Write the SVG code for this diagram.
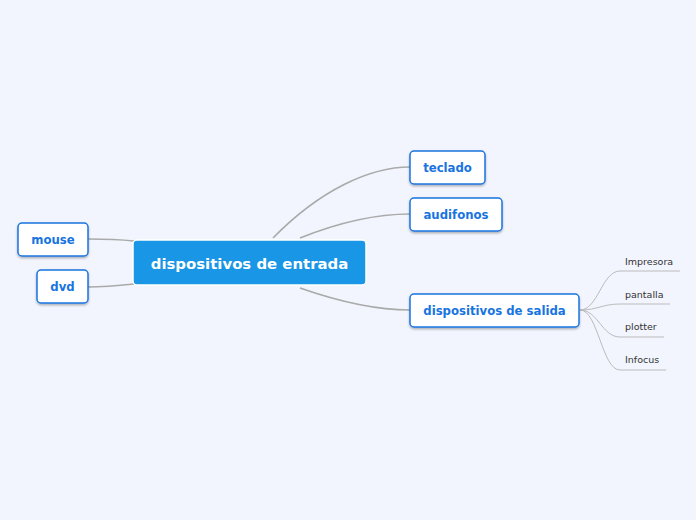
<svg xmlns="http://www.w3.org/2000/svg" width="696" height="520" viewBox="0 0 696 520">
<defs>
<filter id="sh" x="-10%" y="-20%" width="120%" height="150%">
<feDropShadow dx="0" dy="1.5" stdDeviation="1" flood-color="#000" flood-opacity="0.3"/>
</filter>
</defs>
<style>
.bg{fill:#f2f5fe}
.node rect{fill:#fff;stroke:#1874e0;stroke-width:1.5;filter:url(#sh)}
.node text{font-family:"DejaVu Sans",sans-serif;font-weight:bold;font-size:11.7px;fill:#1874e0;text-anchor:middle}
.conn path{fill:none;stroke:#aaaaaa;stroke-width:1.6}
.sub path{fill:none;stroke:#bbbbbb;stroke-width:1}
.sub text{font-family:"DejaVu Sans",sans-serif;font-size:9.5px;fill:#333}
</style>
<rect class="bg" x="0" y="0" width="696" height="520"/>
<g class="conn" id="connectors">
<path d="M273,238 C320,190 370,167 410,167"/>
<path d="M300,238 C340,222 375,214 410,214"/>
<path d="M300,288 C340,302 375,310 410,310"/>
<path d="M134,241 C115,239 100,239 88,239"/>
<path d="M134,284 C115,286 100,287 88,287"/>
</g>
<g class="sub" id="subconnectors">
<path d="M580,310 C598,310 602,271 620,271 L680,271"/>
<path d="M580,310 C598,310 602,304 620,304 L670,304"/>
<path d="M580,310 C598,310 602,337 620,337 L664,337"/>
<path d="M580,310 C598,310 602,370 620,370 L666,370"/>
</g>
<g id="central">
<rect x="133" y="240" width="233" height="45" rx="4" fill="#1a96e6" stroke="#ffffff" stroke-width="1.5"/>
<text x="249.5" y="268.5" font-family="DejaVu Sans,sans-serif" font-weight="bold" font-size="14.9px" fill="#ffffff" text-anchor="middle">dispositivos de entrada</text>
</g>
<g class="node" id="teclado"><rect x="410" y="151" width="75" height="33" rx="4"/><text x="447.5" y="171.5">teclado</text></g>
<g class="node" id="audifonos"><rect x="410" y="198" width="92" height="33" rx="4"/><text x="456" y="218.5">audifonos</text></g>
<g class="node" id="salida"><rect x="410" y="294" width="169" height="33" rx="4"/><text x="494.5" y="314.5">dispositivos de salida</text></g>
<g class="node" id="mouse"><rect x="18" y="223" width="70" height="33" rx="4"/><text x="53" y="243.5">mouse</text></g>
<g class="node" id="dvd"><rect x="37" y="270" width="51" height="33" rx="4"/><text x="62.5" y="290.5">dvd</text></g>
<g class="sub" id="impresora"><text x="625" y="265">Impresora</text></g>
<g class="sub" id="pantalla"><text x="625" y="298">pantalla</text></g>
<g class="sub" id="plotter"><text x="625" y="330">plotter</text></g>
<g class="sub" id="infocus"><text x="625" y="363">Infocus</text></g>
</svg>
